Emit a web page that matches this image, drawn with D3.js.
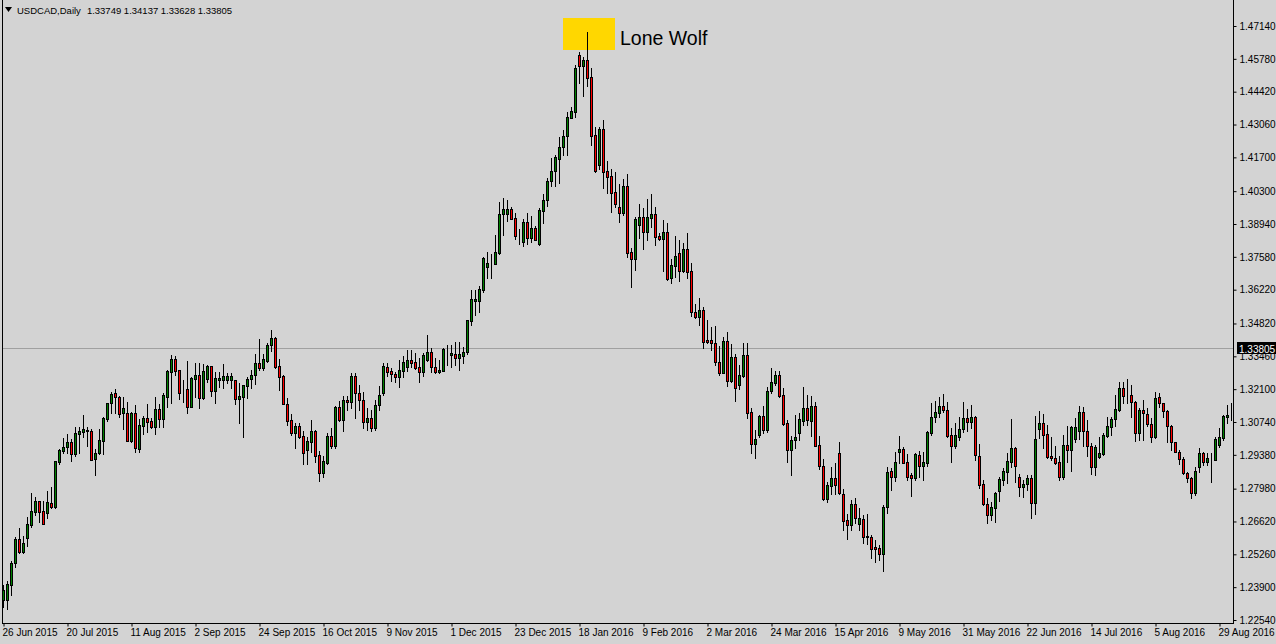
<!DOCTYPE html>
<html><head><meta charset="utf-8">
<script src="https://cdn.jsdelivr.net/npm/d3@7"></script>
<style>html,body{margin:0;padding:0;background:#d3d3d3;overflow:hidden}</style>
</head><body>
<svg id="chart" width="1276" height="644"></svg>
<script>
// ---------------- data ----------------
const symbolTitle = "USDCAD,Daily";
const titleQuote = ["1.33749", "1.34137", "1.33628", "1.33805"];
const currentPrice = 1.33805;
const annotationText = "Lone Wolf";
const dateLabels = ["26 Jun 2015","20 Jul 2015","11 Aug 2015","2 Sep 2015","24 Sep 2015","16 Oct 2015","9 Nov 2015","1 Dec 2015","23 Dec 2015","18 Jan 2016","9 Feb 2016","2 Mar 2016","24 Mar 2016","15 Apr 2016","9 May 2016","31 May 2016","22 Jun 2016","14 Jul 2016","5 Aug 2016","29 Aug 2016"];
const barsPerDateLabel = 16;
const priceTicks = [1.47140,1.45780,1.44420,1.43060,1.41700,1.40300,1.38940,1.37580,1.36220,1.34820,1.33460,1.32100,1.30740,1.29380,1.27980,1.26620,1.25260,1.23900,1.22540];

const opens = [1.2337,1.2337,1.2399,1.2490,1.2589,1.2536,1.2594,1.2647,1.2701,1.2747,1.2706,1.2697,1.2739,1.2722,1.2908,1.2954,1.2971,1.2991,1.2941,1.3024,
1.3033,1.3039,1.3037,1.2921,1.2946,1.2995,1.3086,1.3153,1.3194,1.3178,1.3111,1.3111,1.2995,1.3111,1.2962,1.3058,1.3091,1.3078,1.3053,1.3128,
1.3086,1.3178,1.3281,1.3335,1.3289,1.3198,1.3211,1.3136,1.3252,1.3269,1.3173,1.3252,1.3306,1.3202,1.3248,1.3248,1.3248,1.3248,1.3248,1.3169,
1.3178,1.3223,1.3252,1.3269,1.3318,1.3298,1.3327,1.3393,1.3422,1.3306,1.3265,1.3149,1.3082,1.3029,1.3058,1.3016,1.2958,1.2991,1.3037,1.2937,
1.2863,1.2904,1.3016,1.2975,1.3136,1.3082,1.3165,1.3157,1.3265,1.3194,1.3165,1.3074,1.3091,1.3049,1.3144,1.3194,1.3302,1.3285,1.3273,1.3260,
1.3285,1.3302,1.3331,1.3323,1.3302,1.3281,1.3331,1.3364,1.3302,1.3281,1.3285,1.3360,1.3352,1.3356,1.3339,1.3347,1.3364,1.3492,1.3577,1.3575,
1.3621,1.3716,1.3732,1.3728,1.3774,1.3935,1.3935,1.3956,1.3919,1.3846,1.3820,1.3902,1.3836,1.3877,1.3811,1.3948,1.3993,1.4072,1.4114,1.4163,
1.4213,1.4258,1.4333,1.4358,1.4594,1.4548,1.4573,1.4503,1.4263,1.4138,1.4287,1.4114,1.4093,1.4026,1.3964,1.3939,1.4051,1.3778,1.3749,1.3890,
1.3923,1.3861,1.3919,1.3935,1.3844,1.3832,1.3861,1.3670,1.3720,1.3774,1.3699,1.3791,1.3699,1.3530,1.3509,1.3538,1.3414,1.3414,1.3401,1.3323,
1.3277,1.3409,1.3244,1.3343,1.3227,1.3265,1.3352,1.3115,1.2983,1.3020,1.3099,1.3041,1.3202,1.3236,1.3269,1.3186,1.3070,1.2958,1.3000,1.3029,
1.3078,1.3132,1.3078,1.3140,1.2979,1.2892,1.2755,1.2809,1.2842,1.2946,1.2776,1.2668,1.2647,1.2734,1.2652,1.2672,1.2602,1.2598,1.2556,1.2552,
1.2527,1.2722,1.2871,1.2846,1.2950,1.2962,1.2908,1.2855,1.2842,1.2937,1.2892,1.2904,1.3029,1.3095,1.3111,1.3140,1.3124,1.3020,1.2975,1.3012,
1.3045,1.3091,1.3074,1.3095,1.2933,1.2817,1.2734,1.2689,1.2718,1.2788,1.2834,1.2867,1.2908,1.2966,1.2846,1.2805,1.2817,1.2842,1.2739,1.3045,
1.3070,1.3024,1.2933,1.2925,1.2908,1.2846,1.2979,1.2958,1.3004,1.3037,1.3115,1.3037,1.2975,1.2888,1.2929,1.2941,1.3016,1.3053,1.3086,1.3124,
1.3215,1.3186,1.3186,1.3157,1.3029,1.3124,1.3107,1.3066,1.3012,1.3178,1.3153,1.3120,1.3058,1.2991,1.2950,1.2921,1.2863,1.2842,1.2780,1.2888,
1.2946,1.2908,1.2921,1.2917,1.2979,1.3008,1.3095,1.3103];

const highs = [1.2399,1.2416,1.2498,1.2598,1.2635,1.2602,1.2681,1.2780,1.2763,1.2747,1.2747,1.2788,1.2805,1.2913,1.2962,1.3008,1.3024,1.3004,1.3053,1.3053,
1.3103,1.3053,1.3045,1.2962,1.3045,1.3095,1.3153,1.3198,1.3211,1.3182,1.3178,1.3157,1.3115,1.3144,1.3086,1.3099,1.3149,1.3091,1.3178,1.3149,
1.3194,1.3289,1.3352,1.3347,1.3289,1.3248,1.3327,1.3260,1.3318,1.3318,1.3314,1.3310,1.3306,1.3281,1.3281,1.3314,1.3277,1.3277,1.3248,1.3236,
1.3227,1.3260,1.3289,1.3356,1.3418,1.3356,1.3401,1.3455,1.3426,1.3335,1.3269,1.3173,1.3107,1.3070,1.3070,1.3037,1.3012,1.3082,1.3041,1.2954,
1.2933,1.3029,1.3049,1.3140,1.3161,1.3182,1.3182,1.3277,1.3277,1.3227,1.3198,1.3132,1.3124,1.3165,1.3223,1.3318,1.3318,1.3298,1.3281,1.3331,
1.3347,1.3372,1.3372,1.3360,1.3339,1.3360,1.3434,1.3381,1.3339,1.3331,1.3381,1.3393,1.3393,1.3405,1.3405,1.3385,1.3496,1.3621,1.3621,1.3637,
1.3757,1.3778,1.3770,1.3849,1.3985,1.4002,1.3993,1.3964,1.3939,1.3873,1.3915,1.3939,1.3927,1.3886,1.3960,1.4018,1.4084,1.4167,1.4180,1.4254,
1.4283,1.4358,1.4378,1.4553,1.4606,1.4585,1.4689,1.4540,1.4296,1.4296,1.4325,1.4155,1.4122,1.4109,1.4060,1.4080,1.4101,1.3795,1.3923,1.3977,
1.3960,1.3998,1.4018,1.3964,1.3857,1.3911,1.3898,1.3749,1.3844,1.3828,1.3816,1.3857,1.3732,1.3563,1.3588,1.3550,1.3496,1.3468,1.3472,1.3389,
1.3426,1.3447,1.3397,1.3356,1.3310,1.3401,1.3401,1.3132,1.3041,1.3103,1.3140,1.3219,1.3298,1.3285,1.3285,1.3215,1.3082,1.3016,1.3103,1.3111,
1.3219,1.3186,1.3182,1.3157,1.3016,1.2921,1.2826,1.2888,1.2904,1.2991,1.2797,1.2693,1.2751,1.2759,1.2718,1.2689,1.2693,1.2606,1.2585,1.2565,
1.2730,1.2888,1.2884,1.2950,1.3016,1.2971,1.2941,1.2863,1.2946,1.2954,1.2950,1.3037,1.3153,1.3161,1.3178,1.3190,1.3157,1.3049,1.3070,1.3095,
1.3157,1.3128,1.3144,1.3099,1.2983,1.2834,1.2759,1.2743,1.2784,1.2846,1.2884,1.2946,1.3086,1.2971,1.2859,1.2834,1.2855,1.2855,1.3099,1.3120,
1.3107,1.3062,1.3012,1.2975,1.2933,1.3020,1.3058,1.3058,1.3091,1.3140,1.3136,1.3082,1.2987,1.2979,1.3012,1.3029,1.3095,1.3095,1.3186,1.3240,
1.3240,1.3252,1.3227,1.3161,1.3132,1.3165,1.3132,1.3091,1.3198,1.3194,1.3153,1.3124,1.3062,1.2991,1.2958,1.2929,1.2867,1.2846,1.2888,1.2966,
1.2950,1.2946,1.2946,1.3012,1.3049,1.3103,1.3144,1.3153];

const lows = [1.2308,1.2300,1.2358,1.2474,1.2532,1.2532,1.2560,1.2639,1.2689,1.2660,1.2652,1.2676,1.2718,1.2718,1.2900,1.2946,1.2946,1.2913,1.2933,1.2946,
1.3012,1.2975,1.2917,1.2855,1.2941,1.2941,1.3078,1.3111,1.3111,1.3095,1.3045,1.2995,1.2991,1.2950,1.2950,1.3024,1.3033,1.3049,1.3024,1.3053,
1.3053,1.3136,1.3153,1.3269,1.3169,1.3157,1.3111,1.3136,1.3178,1.3132,1.3169,1.3240,1.3182,1.3153,1.3219,1.3215,1.3236,1.3215,1.3149,1.3070,
1.3012,1.3173,1.3215,1.3231,1.3289,1.3289,1.3323,1.3368,1.3298,1.3207,1.3149,1.3062,1.3020,1.2966,1.3008,1.2900,1.2900,1.2950,1.2908,1.2830,
1.2846,1.2900,1.2966,1.2966,1.3078,1.3037,1.3124,1.3132,1.3091,1.3124,1.3049,1.3041,1.3037,1.3041,1.3124,1.3186,1.3265,1.3244,1.3240,1.3219,
1.3260,1.3285,1.3302,1.3294,1.3240,1.3265,1.3327,1.3281,1.3277,1.3277,1.3285,1.3310,1.3302,1.3310,1.3289,1.3318,1.3356,1.3476,1.3517,1.3530,
1.3612,1.3670,1.3670,1.3728,1.3770,1.3849,1.3906,1.3915,1.3832,1.3811,1.3803,1.3811,1.3820,1.3828,1.3807,1.3898,1.3968,1.4051,1.4051,1.4064,
1.4180,1.4180,1.4333,1.4337,1.4478,1.4424,1.4465,1.4221,1.4109,1.4122,1.4043,1.4022,1.3944,1.3964,1.3902,1.3931,1.3758,1.3633,1.3704,1.3836,
1.3790,1.3828,1.3881,1.3807,1.3828,1.3699,1.3662,1.3650,1.3675,1.3658,1.3695,1.3670,1.3513,1.3505,1.3476,1.3381,1.3401,1.3372,1.3310,1.3269,
1.3277,1.3223,1.3240,1.3161,1.3211,1.3260,1.3091,1.2946,1.2925,1.3012,1.3029,1.3033,1.3194,1.3227,1.3178,1.3062,1.2908,1.2855,1.2966,1.3000,
1.3062,1.3062,1.3016,1.2975,1.2879,1.2751,1.2743,1.2776,1.2776,1.2776,1.2627,1.2589,1.2627,1.2656,1.2627,1.2573,1.2569,1.2511,1.2494,1.2503,
1.2457,1.2697,1.2792,1.2830,1.2904,1.2904,1.2834,1.2767,1.2834,1.2846,1.2834,1.2892,1.3020,1.3074,1.3095,1.3115,1.3012,1.2908,1.2966,1.3000,
1.3033,1.3037,1.3049,1.2917,1.2801,1.2730,1.2656,1.2668,1.2660,1.2747,1.2813,1.2821,1.2888,1.2826,1.2767,1.2763,1.2792,1.2676,1.2693,1.3008,
1.2966,1.2925,1.2917,1.2900,1.2834,1.2838,1.2908,1.2871,1.2991,1.3004,1.2975,1.2933,1.2859,1.2855,1.2925,1.2937,1.3012,1.3020,1.3058,1.3120,
1.3153,1.3153,1.3095,1.2995,1.3000,1.3000,1.3058,1.2991,1.3008,1.3136,1.3095,1.2991,1.2958,1.2950,1.2900,1.2859,1.2826,1.2759,1.2772,1.2867,
1.2896,1.2896,1.2826,1.2917,1.2971,1.3000,1.3070,1.3082];

const closes = [1.2378,1.2403,1.2490,1.2589,1.2536,1.2573,1.2652,1.2706,1.2747,1.2701,1.2652,1.2743,1.2722,1.2913,1.2958,1.2971,1.2991,1.2941,1.3029,1.3037,
1.3045,1.3037,1.2917,1.2946,1.3000,1.3091,1.3153,1.3190,1.3178,1.3107,1.3132,1.2995,1.3111,1.2966,1.3062,1.3091,1.3074,1.3053,1.3128,1.3086,
1.3186,1.3285,1.3335,1.3285,1.3194,1.3197,1.3136,1.3256,1.3269,1.3174,1.3285,1.3306,1.3202,1.3256,1.3256,1.3265,1.3265,1.3265,1.3169,1.3182,
1.3227,1.3252,1.3269,1.3318,1.3298,1.3335,1.3393,1.3422,1.3302,1.3260,1.3149,1.3078,1.3029,1.3058,1.3012,1.2946,1.2995,1.3037,1.2933,1.2863,
1.2913,1.3016,1.2975,1.3136,1.3082,1.3165,1.3157,1.3265,1.3194,1.3165,1.3074,1.3091,1.3049,1.3144,1.3186,1.3306,1.3281,1.3273,1.3260,1.3289,
1.3323,1.3331,1.3318,1.3298,1.3281,1.3352,1.3364,1.3302,1.3281,1.3289,1.3376,1.3359,1.3360,1.3339,1.3356,1.3364,1.3496,1.3583,1.3582,1.3625,
1.3753,1.3732,1.3731,1.3778,1.3935,1.3956,1.3956,1.3915,1.3844,1.3845,1.3902,1.3836,1.3877,1.3828,1.3952,1.3993,1.4072,1.4114,1.4172,1.4213,
1.4258,1.4337,1.4362,1.4540,1.4548,1.4573,1.4498,1.4258,1.4114,1.4287,1.4109,1.4089,1.4022,1.3977,1.3939,1.4051,1.3774,1.3749,1.3915,1.3923,
1.3861,1.3923,1.3935,1.3840,1.3832,1.3861,1.3666,1.3724,1.3762,1.3699,1.3791,1.3695,1.3530,1.3509,1.3538,1.3405,1.3405,1.3401,1.3323,1.3277,
1.3409,1.3244,1.3343,1.3215,1.3269,1.3352,1.3111,1.2983,1.3004,1.3099,1.3041,1.3202,1.3240,1.3269,1.3182,1.3066,1.2958,1.3000,1.3012,1.3086,
1.3132,1.3082,1.3140,1.2975,1.2892,1.2755,1.2813,1.2842,1.2813,1.2780,1.2664,1.2647,1.2734,1.2676,1.2676,1.2598,1.2598,1.2548,1.2548,1.2527,
1.2722,1.2867,1.2846,1.2908,1.2962,1.2904,1.2846,1.2842,1.2941,1.2892,1.2908,1.3033,1.3095,1.3115,1.3140,1.3124,1.3016,1.2975,1.3020,1.3045,
1.3091,1.3074,1.3095,1.2937,1.2813,1.2734,1.2689,1.2722,1.2780,1.2838,1.2871,1.2913,1.2966,1.2892,1.2805,1.2817,1.2842,1.2739,1.3004,1.3070,
1.3020,1.2929,1.2925,1.2904,1.2846,1.2979,1.2958,1.3053,1.3053,1.3115,1.3037,1.2975,1.2888,1.2971,1.2946,1.3020,1.3058,1.3086,1.3128,1.3215,
1.3182,1.3185,1.3157,1.3029,1.3124,1.3111,1.3066,1.3012,1.3173,1.3153,1.3120,1.3058,1.2991,1.2950,1.2921,1.2863,1.2842,1.2780,1.2871,1.2946,
1.2908,1.2925,1.2920,1.3004,1.3012,1.3099,1.3103,1.3102];

// ---------------- drawing ----------------
const W = 1276, H = 644;
const plotLeft = 2, plotRight = 1233, plotBottom = 623;
const FONT = "'Liberation Sans', Arial, sans-serif";
const BG = "#d3d3d3", UP = "#008000", DOWN = "#ff0000";

const n = opens.length;
const bars = d3.range(n).map(i => ({i, o: opens[i], h: highs[i], l: lows[i], c: closes[i]}));

const x = d3.scaleLinear().domain([0, n - 1]).range([3.5, 3.5 + 4 * (n - 1)]);
const y = d3.scaleLinear().domain([1.22540, 1.47140]).range([620, 26]);

const svg = d3.select("#chart").style("font-family", FONT);
svg.append("rect").attr("width", W).attr("height", H).attr("fill", BG);

// annotation box (drawn below candles)
const annotation = {price: 1.4650, bar: 140};
svg.append("rect")
  .attr("x", 563).attr("y", 18).attr("width", 52).attr("height", 32)
  .attr("fill", "#ffd700");
svg.append("text")
  .attr("x", 620).attr("y", 45)
  .attr("font-size", 19.5).attr("fill", "#000")
  .text(annotationText);

// current price line
const yc = Math.round(y(currentPrice)) + 0.5;
svg.append("line")
  .attr("x1", plotLeft).attr("x2", plotRight).attr("y1", yc).attr("y2", yc)
  .attr("stroke", "#a0a0a0").attr("stroke-width", 1);

// candles
const plot = svg.append("g").attr("clip-path", "url(#clip)");
svg.append("clipPath").attr("id", "clip").append("rect")
  .attr("x", plotLeft).attr("y", 0).attr("width", plotRight - plotLeft).attr("height", plotBottom);

const g = plot.selectAll("g.bar").data(bars).join("g").attr("class", "bar");
g.append("line")
  .attr("x1", d => x(d.i)).attr("x2", d => x(d.i))
  .attr("y1", d => Math.round(y(d.h)))
  .attr("y2", d => Math.round(y(d.l)) + 1)
  .attr("stroke", "#000").attr("stroke-width", 1);
g.append("rect")
  .attr("x", d => x(d.i) - 1)
  .attr("width", 2)
  .attr("y", d => Math.round(y(Math.max(d.o, d.c))) + 0.5)
  .attr("height", d => Math.max(0, Math.round(y(Math.min(d.o, d.c))) - Math.round(y(Math.max(d.o, d.c)))))
  .attr("fill", d => d.c >= d.o ? UP : DOWN)
  .attr("stroke", "#000").attr("stroke-width", 1);

// right price axis
const yAxis = d3.axisRight(y).tickValues(priceTicks).tickFormat(d3.format(".5f")).tickSize(3).tickPadding(3);
const ya = svg.append("g").attr("transform", `translate(${plotRight + 0.5},0)`).call(yAxis);
ya.select(".domain").remove();
ya.selectAll(".tick line").attr("stroke", "#000");
ya.selectAll(".tick text").attr("fill", "#000").attr("font-size", 10).attr("font-family", FONT);

// bottom date axis
const dateIdx = dateLabels.map((_, k) => k * barsPerDateLabel);
const xAxis = d3.axisBottom(x).tickValues(dateIdx).tickFormat((d, k) => dateLabels[k]).tickSize(3).tickPadding(2);
const xa = svg.append("g").attr("transform", `translate(0,${plotBottom + 0.5})`).call(xAxis);
xa.select(".domain").remove();
xa.selectAll(".tick line").attr("stroke", "#000");
xa.selectAll(".tick text").attr("fill", "#000").attr("font-size", 10).attr("font-family", FONT)
  .attr("text-anchor", "start").attr("dx", -1.5).attr("y", 5);

// frame lines
svg.append("line").attr("x1", plotLeft + 0.5).attr("x2", plotLeft + 0.5).attr("y1", 0).attr("y2", plotBottom + 1).attr("stroke", "#000");
svg.append("line").attr("x1", plotRight + 0.5).attr("x2", plotRight + 0.5).attr("y1", 0).attr("y2", plotBottom + 1).attr("stroke", "#000");
svg.append("line").attr("x1", plotLeft).attr("x2", plotRight + 1).attr("y1", plotBottom + 0.5).attr("y2", plotBottom + 0.5).attr("stroke", "#000");

// current price label
svg.append("rect").attr("x", plotRight + 4).attr("y", yc - 6.5).attr("width", W - plotRight - 4).attr("height", 12).attr("fill", "#000");
svg.append("text").attr("x", plotRight + 6).attr("y", yc + 4).attr("font-size", 10).attr("fill", "#fff").text(d3.format(".5f")(currentPrice));

// title
svg.append("path").attr("d", "M5,7 L12,7 L8.5,12 Z").attr("fill", "#000");
const t = svg.append("text").attr("x", 17).attr("y", 14).attr("font-size", 9.5).attr("fill", "#000");
t.append("tspan").text(symbolTitle);
t.append("tspan").attr("dx", 6).text(titleQuote.join(" "));
</script>
</body></html>
